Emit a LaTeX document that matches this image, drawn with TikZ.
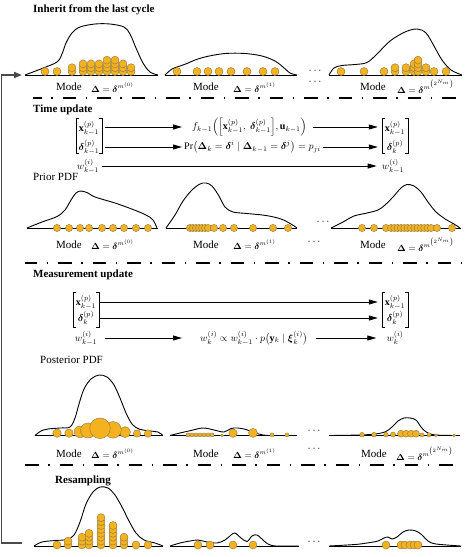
\documentclass[tikz,border=0pt]{standalone}
\usepackage{amsmath}
\usepackage{fontspec}
\setmainfont{Liberation Serif}
\usetikzlibrary{arrows.meta}
\DeclareMathSizes{11}{11}{7.5}{5.5}
\DeclareMathSizes{10}{10}{7}{5}
\DeclareMathSizes{9.5}{9.5}{6.5}{5}
\definecolor{dotfill}{HTML}{F4B120}
\definecolor{dotedge}{HTML}{8A7A48}
\definecolor{fbgray}{HTML}{4A4A4A}
\tikzset{
  txt/.style={inner sep=0pt, font=\fontsize{11}{13}\selectfont},
  smalltxt/.style={inner sep=0pt, font=\fontsize{10}{12}\selectfont},
  sechead/.style={inner sep=0pt, font=\fontsize{11}{13}\selectfont\bfseries, anchor=west},
  subhead/.style={txt, anchor=west},
  modelbl/.style={txt, anchor=base west},
  dlbl/.style={inner sep=0pt, font=\fontsize{9.5}{11}\selectfont, anchor=base west},
  mrow/.style={smalltxt, minimum width=26pt},
  pdfcurve/.style={line width=0.9pt, black},
  baseln/.style={line width=0.9pt, black},
  pdot/.style={fill=dotfill, draw=dotedge, line width=0.4pt},
  divider/.style={line width=2pt, dash pattern=on 13.5pt off 9.5pt on 1.5pt off 10pt},
  arr/.style={line width=0.8pt, -{Triangle[length=9pt,width=5pt]}},
  brk/.style={line width=0.6pt},
  ellip/.style={txt},
  fbline/.style={line width=1.8pt, fbgray, -{Triangle[length=8pt,width=6pt]}},
}
\begin{document}
\begin{tikzpicture}[x=1pt,y=-1pt]
\useasboundingbox (0,0) rectangle (474,557);

% ---------- headings ----------
\node[sechead] (t1) at (33,10) {Inherit from the last cycle};
\node[sechead] (t2) at (33,110) {Time update};
\node[subhead] (t3) at (33,177) {Prior PDF};
\node[sechead] (t4) at (33,275) {Measurement update};
\node[subhead] (t5) at (40,360) {Posterior PDF};
\node[sechead] (t6) at (55,481) {Resampling};

% ---------- feedback line ----------
\coordinate (fbout) at (22,543);
\coordinate (fbin) at (22,75);
\draw[fbline] (fbout) -- (1.5,543) -- (1.5,75) -- (fbin);

% ---------- row 1 : inherit ----------
\draw[pdfcurve] plot[smooth, tension=0.55] coordinates {(25,75) (42,68.5) (57,62) (62,54) (66,43) (72,33) (80,27) (95,24) (110,24) (124,27) (130,34) (136,48) (143,63) (150,72) (158,75)};
\draw[baseln] (25,75) -- (158,75);
\draw[pdfcurve] plot[smooth, tension=0.55] coordinates {(165,75) (172,69) (180,66) (187,63.5) (195,60) (207,56.5) (225,53.5) (245,53.5) (262,56) (275,61) (283,67) (290,73) (297,75)};
\draw[baseln] (165,75) -- (297,75);
\draw[pdfcurve] plot[smooth, tension=0.55] coordinates {(329,75) (334,68) (342,65.5) (355,64.5) (367,62.5) (377,54) (390,41) (405,32) (417,29) (426,33) (434,46) (442,60) (451,70) (462,75)};
\draw[baseln] (329,75) -- (462,75);
\foreach \x/\n in {45/1,57/1,72/2,83/3,91/3,99/3,107/4,115/4,123/3,131/2}
  \foreach \k in {1,...,\n} \filldraw[pdot] (\x,{71.5-(\k-1)*3.8}) circle (4pt);
\foreach \x in {177,197,208,219,231,247,263,275}
  \filldraw[pdot] (\x,71.5) circle (4pt);
\foreach \x/\n in {341/1,364/1,384/1,395/2,406/2,414/3,418/4,426/2,434/1,446/1}
  \foreach \k in {1,...,\n} \filldraw[pdot] (\x,{71.5-(\k-1)*3.8}) circle (4pt);
\node[ellip] (e1a) at (316,71) {$\cdots$};
\node[ellip] (e1b) at (316,82) {$\cdots$};
\node[modelbl] (m1a) at (56,90.5) {Mode};
\node[dlbl] (d1a) at (91,92.5) {$\boldsymbol{\Delta}=\boldsymbol{\delta}^{m^{(0)}}$};
\node[modelbl] (m1b) at (193,90.5) {Mode};
\node[dlbl] (d1b) at (233,92.5) {$\boldsymbol{\Delta}=\boldsymbol{\delta}^{m^{(1)}}$};
\node[modelbl] (m1c) at (360,90.5) {Mode};
\node[dlbl] (d1c) at (397,93.5) {$\boldsymbol{\Delta}=\boldsymbol{\delta}^{m^{\left(2^{N_m}\right)}}$};
\draw[divider, dash phase=5pt] (33,98) -- (461,98);

% ---------- time update ----------
\node[mrow] (tux) at (89,128) {$\mathbf{x}_{k-1}^{(p)}$};
\node[mrow] (tud) at (89,147) {$\boldsymbol{\delta}_{k-1}^{(p)}$};
\draw[brk] (79,118) -- (76,118) -- (76,153) -- (79,153);
\draw[brk] (99,118) -- (102,118) -- (102,153) -- (99,153);
\node[smalltxt, anchor=west] (fx) at (192,127) {$f_{k-1}\Bigl(\Bigl[\mathbf{x}_{k-1}^{(p)},\ \boldsymbol{\delta}_{k-1}^{(p)}\Bigr],\mathbf{u}_{k-1}\Bigr)$};
\node[smalltxt, anchor=west] (pr) at (184,147) {$\Pr\bigl(\boldsymbol{\Delta}_k=\boldsymbol{\delta}^i \mid \boldsymbol{\Delta}_{k-1}=\boldsymbol{\delta}^j\bigr)=p_{ji}$};
\node[mrow] (tox) at (395,128) {$\mathbf{x}_{k-1}^{(p)}$};
\node[mrow] (tod) at (395,147) {$\boldsymbol{\delta}_{k}^{(p)}$};
\draw[brk] (385,118) -- (382,118) -- (382,153) -- (385,153);
\draw[brk] (405,118) -- (408,118) -- (408,153) -- (405,153);
\node[smalltxt] (tuw) at (88,166) {$w_{k-1}^{(i)}$};
\node[smalltxt] (tow) at (393,166) {$w_{k-1}^{(i)}$};
\draw[arr, shorten <=3pt, shorten >=10pt] (tux.east |- fx.west) -- (fx.west);
\draw[arr, shorten <=6pt, shorten >=4pt] (fx.east) -- (fx.east -| tox.west);
\draw[arr, shorten <=3pt, shorten >=2pt] (tud.east |- pr.west) -- (pr.west);
\draw[arr, shorten <=2pt, shorten >=4pt] (pr.east) -- (pr.east -| tod.west);
\draw[arr, shorten <=3pt, shorten >=5pt] (tuw.east) -- (tuw.east -| tow.west);

% ---------- row 2 : prior ----------
\draw[pdfcurve] plot[smooth, tension=0.55] coordinates {(27,228) (42,222) (57,216.5) (65,210) (71,200) (76,193) (81,191) (88,193) (95,197) (115,203) (133,209.5) (146,215) (153,220) (157,228)};
\draw[baseln] (27,228) -- (158,228);
\draw[pdfcurve] plot[smooth, tension=0.55] coordinates {(166,228) (175,215) (183,201) (192,190) (200,184) (206,183) (212,186) (219,196) (225,207) (233,212) (247,213.5) (266,215.5) (281,219) (291,224) (297,228)};
\draw[baseln] (166,228) -- (297,228);
\draw[pdfcurve] plot[smooth, tension=0.55] coordinates {(331,228) (343,222) (354,216) (367,213) (378,210) (385,205) (393,197) (401,188) (407,184.5) (414,186) (421,192) (428,202) (436,212) (446,219.5) (454,224) (460,228)};
\draw[baseln] (331,228) -- (461,228);
\foreach \x in {57,69,80,89,102,113,124,136,148}
  \filldraw[pdot] (\x,228) circle (3.6pt);
\foreach \x in {190,193,196,199,202,205,208,214,223,234,253,273,288}
  \filldraw[pdot] (\x,228) circle (3.6pt);
\foreach \x in {362,374,386,391,394.3,397.6,401,404.3,407.6,411,414.3,417.6,421,424.3,427.6,431,437,452}
  \filldraw[pdot] (\x,228) circle (3.6pt);
\node[ellip] (e2a) at (324,222) {$\cdots$};
\node[ellip] (e2b) at (315,242) {$\cdots$};
\node[modelbl] (m2a) at (56,248) {Mode};
\node[dlbl] (d2a) at (91,249.5) {$\boldsymbol{\Delta}=\boldsymbol{\delta}^{m^{(0)}}$};
\node[modelbl] (m2b) at (193,248) {Mode};
\node[dlbl] (d2b) at (233,249.5) {$\boldsymbol{\Delta}=\boldsymbol{\delta}^{m^{(1)}}$};
\node[modelbl] (m2c) at (360,248) {Mode};
\node[dlbl] (d2c) at (397,251) {$\boldsymbol{\Delta}=\boldsymbol{\delta}^{m^{\left(2^{N_m}\right)}}$};
\draw[divider, dash phase=1.5pt] (25,263) -- (461,263);

% ---------- measurement update ----------
\node[mrow] (mux) at (86,302) {$\mathbf{x}_{k-1}^{(p)}$};
\node[mrow] (mud) at (86,318) {$\boldsymbol{\delta}_{k}^{(p)}$};
\draw[brk] (76,292) -- (73,292) -- (73,327) -- (76,327);
\draw[brk] (96,292) -- (99,292) -- (99,327) -- (96,327);
\node[mrow] (mox) at (395,302) {$\mathbf{x}_{k-1}^{(p)}$};
\node[mrow] (mod) at (395,318) {$\boldsymbol{\delta}_{k}^{(p)}$};
\draw[brk] (385,292) -- (382,292) -- (382,327) -- (385,327);
\draw[brk] (405,292) -- (408,292) -- (408,327) -- (405,327);
\node[smalltxt] (muw) at (86,338) {$w_{k-1}^{(i)}$};
\node[smalltxt, anchor=west] (mf) at (200,338) {$w_k^{(i)}\propto w_{k-1}^{(i)}\cdot p\bigl(\mathbf{y}_k \mid \boldsymbol{\xi}_k^{(i)}\bigr)$};
\node[smalltxt] (mow) at (395,338) {$w_k^{(i)}$};
\draw[arr, shorten <=1pt, shorten >=4pt] (mux.east) -- (mux.east -| mox.west);
\draw[arr, shorten <=1pt, shorten >=4pt] (mud.east) -- (mud.east -| mod.west);
\draw[arr, shorten <=8pt, shorten >=18pt] (muw.east) -- (muw.east -| mf.west);
\draw[arr, shorten <=8pt, shorten >=10pt] (mf.east) -- (mf.east -| mow.west);

% ---------- row 3 : posterior ----------
\draw[pdfcurve] plot[smooth, tension=0.55] coordinates {(35,435.5) (41,431) (48,429) (60,428) (70,427) (75,418) (79,404) (84,389) (91,379) (99,375) (107,377) (114,385) (120,398) (126,413) (132,424) (139,429) (150,431) (158,432) (163,435.5)};
\draw[baseln] (35,435.5) -- (163,435.5);
\draw[pdfcurve] plot[smooth, tension=0.55] coordinates {(170,435.5) (180,433) (191,430.5) (203,428) (214,430) (224,432) (231,428.5) (238,428) (246,429.5) (254,432.5) (263,435) (272,435.5) (297,435.5)};
\draw[baseln] (170,435.5) -- (297,435.5);
\draw[pdfcurve] plot[smooth, tension=0.55] coordinates {(329,435.5) (360,435) (375,434) (385,432) (392,427) (398,421) (404,418) (410,418) (416,420) (421,427) (427,432.5) (436,435) (458,435.5)};
\draw[baseln] (329,435.5) -- (460,435.5);
\foreach \x/\r in {57/4.2,69/4.2,80/5.8,137/3.7,148/3.7,125/5.5,88/7.5,113/8.3,100/10.3}
  \filldraw[pdot] (\x,{436.5-0.8*\r}) circle [radius=\r pt];
\foreach \x/\r in {188/2,192/2,196/2,200/2,204/2,208/2,212/2,222/1.5,233/4.2,253/4.5,272/2,287/2}
  \filldraw[pdot] (\x,{436.5-0.8*\r}) circle [radius=\r pt];
\foreach \x/\r in {362/2.3,374/2.3,386/2.3,393/2.5,401/3.5,406/3.5,411/3.5,416/3.5,422/2,429/2,436/1.5,454/1.5}
  \filldraw[pdot] (\x,{436.5-0.8*\r}) circle [radius=\r pt];
\node[ellip] (e3a) at (315,431) {$\cdots$};
\node[ellip] (e3b) at (315,449) {$\cdots$};
\node[modelbl] (m3a) at (56,457) {Mode};
\node[dlbl] (d3a) at (91,458.5) {$\boldsymbol{\Delta}=\boldsymbol{\delta}^{m^{(0)}}$};
\node[modelbl] (m3b) at (193,457) {Mode};
\node[dlbl] (d3b) at (233,458.5) {$\boldsymbol{\Delta}=\boldsymbol{\delta}^{m^{(1)}}$};
\node[modelbl] (m3c) at (361,457) {Mode};
\node[dlbl] (d3c) at (396,460) {$\boldsymbol{\Delta}=\boldsymbol{\delta}^{m^{\left(2^{N_m}\right)}}$};
\draw[divider] (25,465) -- (461,465);

% ---------- row 4 : resampling ----------
\draw[pdfcurve] plot[smooth, tension=0.55] coordinates {(34,546) (42,542) (55,540.5) (67,539.5) (74,535) (80,522) (86,504) (93,492) (100,487) (108,488) (115,495) (122,507) (129,521) (136,533) (144,540) (155,543) (163,546)};
\draw[baseln] (34,546) -- (163,546);
\draw[pdfcurve] plot[smooth, tension=0.55] coordinates {(170,546) (180,543) (190,541) (198,540) (207,542) (217,543) (225,540) (231,535) (235,533) (241,538) (247,541.5) (252,536) (257,535) (263,540) (268,544) (276,546) (299,546)};
\draw[baseln] (170,546) -- (299,546);
\draw[pdfcurve] plot[smooth, tension=0.55] coordinates {(329,546) (355,544.5) (367,543) (378,541) (384,538) (388,537) (392,539) (397,537) (403,532) (409,530) (416,531) (422,535) (428,541) (436,544) (461,546)};
\draw[baseln] (329,546) -- (461,546);
\foreach \x/\n in {57/1,68/2,82/3,89/4,101/8,113/6,124/3,136/1,148/1}
  \foreach \k in {1,...,\n} \filldraw[pdot] (\x,{545-(\k-1)*3.9}) circle (4pt);
\foreach \x in {198,210,233,253}
  \filldraw[pdot] (\x,545) circle (4pt);
\foreach \x in {386,401,405,410,414,418}
  \filldraw[pdot] (\x,545) circle (4pt);
\node[ellip] (e4a) at (315,542) {$\cdots$};
\end{tikzpicture}
\end{document}
